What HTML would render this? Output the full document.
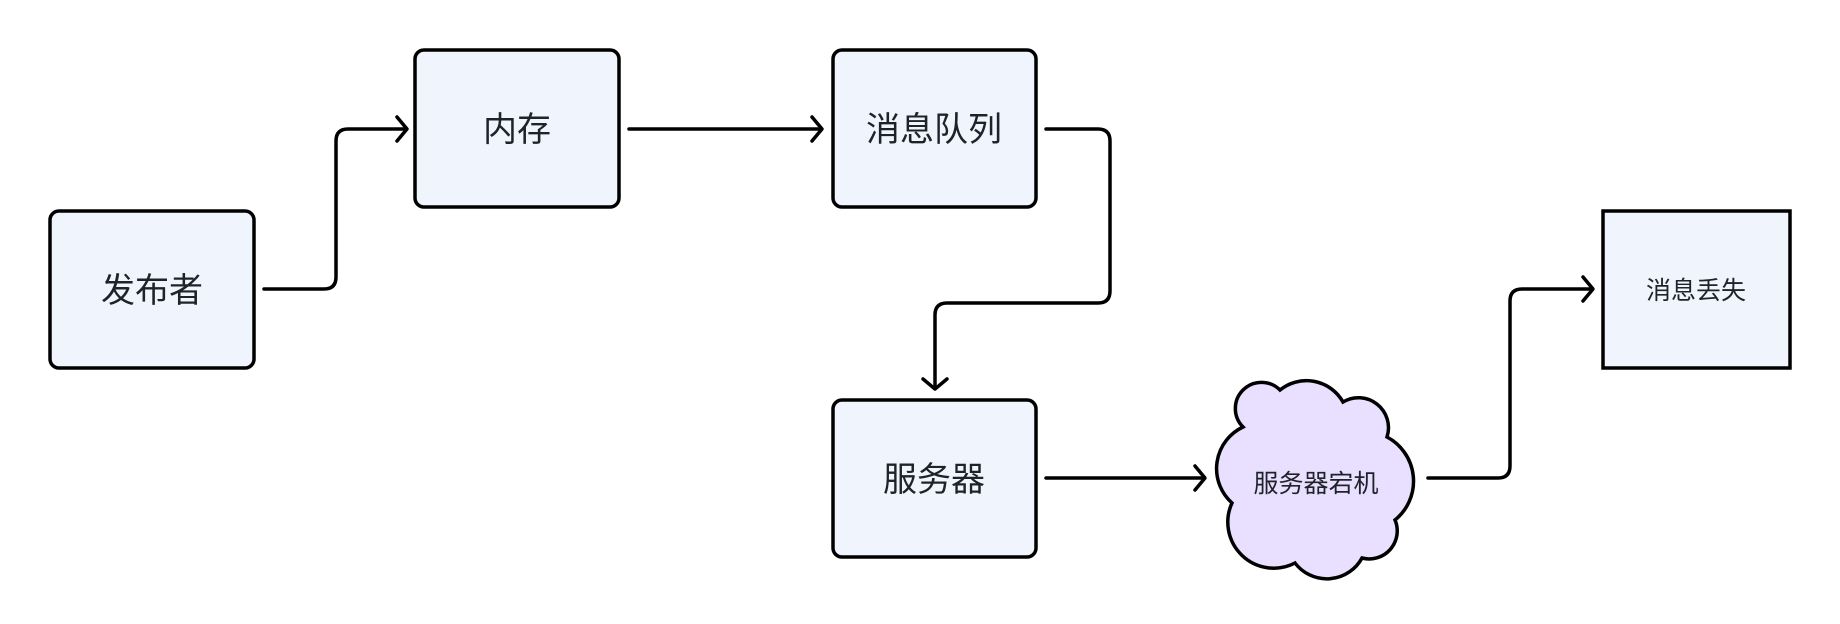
<!DOCTYPE html>
<html><head><meta charset="utf-8"><style>
html,body{margin:0;padding:0;background:#fff;}
svg{display:block;}
text{font-family:"Liberation Sans","Noto Sans CJK SC",sans-serif;fill:#1f2329;text-anchor:middle;dominant-baseline:central;}
</style></head><body>
<svg width="1840" height="624" viewBox="0 0 1840 624" xmlns="http://www.w3.org/2000/svg">
<g fill="#eff4fd" stroke="#000" stroke-width="3.5">
<rect x="50" y="211" width="204" height="157" rx="9"/>
<rect x="415" y="50" width="204" height="157" rx="9"/>
<rect x="833" y="50" width="203" height="157" rx="9"/>
<rect x="833" y="400" width="203" height="157" rx="9"/>
<rect x="1603" y="211" width="187" height="157"/>
</g>
<path d="M1243,427 A26,26 0 0 1 1280,390 A42,42 0 0 1 1343,402 A30,30 0 0 1 1387,437 A50,50 0 0 1 1395,520 A28,28 0 0 1 1362,558 A40,40 0 0 1 1295,563 A46,46 0 0 1 1232,503 A46,46 0 0 1 1243,427 Z" fill="#e8e0fe" stroke="#000" stroke-width="3.5"/>
<g fill="none" stroke="#000" stroke-width="3.5" stroke-linecap="round" stroke-linejoin="round">
<path d="M264,289 H324 Q336,289 336,277 V141 Q336,129 348,129 H405"/>
<path d="M397,117 L407,129 L397,141"/>
<path d="M629,129 H820"/>
<path d="M812,117 L822,129 L812,141"/>
<path d="M1046,129 H1098 Q1110,129 1110,141 V291 Q1110,303 1098,303 H947 Q935,303 935,315 V387"/>
<path d="M923,379 L935,389 L947,379"/>
<path d="M1046,478 H1203"/>
<path d="M1195,466 L1205,478 L1195,490"/>
<path d="M1428,478 H1498 Q1510,478 1510,466 V301 Q1510,289 1522,289 H1591"/>
<path d="M1583,277 L1593,289 L1583,301"/>
</g>
<text x="152" y="291" font-size="34">发布者</text>
<text x="517" y="130" font-size="34">内存</text>
<text x="934" y="130" font-size="34">消息队列</text>
<text x="934" y="480" font-size="34">服务器</text>
<text x="1316" y="484" font-size="25">服务器宕机</text>
<text x="1696" y="291" font-size="25">消息丢失</text>
</svg>
</body></html>
